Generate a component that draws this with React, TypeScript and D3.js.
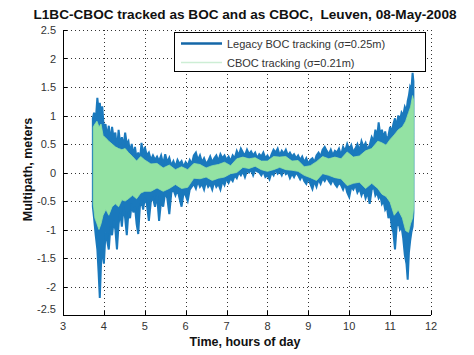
import React from "react";
import * as d3 from "d3";

const title = "L1BC-CBOC tracked as BOC and as CBOC,\u00a0 Leuven, 08-May-2008";
const xLabel = "Time, hours of day";
const yLabel = "Multipath, meters";
const xTicks = [3, 4, 5, 6, 7, 8, 9, 10, 11, 12];
const yTicks = [-2.5, -2, -1.5, -1, -0.5, 0, 0.5, 1, 1.5, 2, 2.5];
const legendLabels = ["Legacy BOC tracking (\u03c3=0.25m)", "CBOC tracking (\u03c3=0.21m)"];

// Legacy BOC tracking: envelope (max / min) per time sample, hours
const bocT = [3.73, 3.76, 3.8, 3.84, 3.87, 3.9, 3.93, 3.96, 4.0, 4.04, 4.08, 4.12, 4.16, 4.2, 4.24, 4.28, 4.32, 4.36, 4.4, 4.44, 4.48, 4.52, 4.56, 4.6, 4.64, 4.68, 4.72, 4.76, 4.8, 4.84, 4.88, 4.92, 4.96, 5.0, 5.05, 5.1, 5.15, 5.2, 5.25, 5.3, 5.35, 5.4, 5.45, 5.5, 5.55, 5.6, 5.65, 5.7, 5.75, 5.8, 5.85, 5.9, 5.95, 6.0, 6.05, 6.1, 6.15, 6.2, 6.25, 6.3, 6.35, 6.4, 6.45, 6.5, 6.55, 6.6, 6.65, 6.7, 6.75, 6.8, 6.85, 6.9, 6.95, 7.0, 7.05, 7.1, 7.15, 7.2, 7.25, 7.3, 7.35, 7.4, 7.45, 7.5, 7.55, 7.6, 7.65, 7.7, 7.75, 7.8, 7.85, 7.9, 7.95, 8.0, 8.05, 8.1, 8.15, 8.2, 8.25, 8.3, 8.35, 8.4, 8.45, 8.5, 8.55, 8.6, 8.65, 8.7, 8.75, 8.8, 8.85, 8.9, 8.95, 9.0, 9.05, 9.1, 9.15, 9.2, 9.25, 9.3, 9.35, 9.4, 9.45, 9.5, 9.55, 9.6, 9.65, 9.7, 9.75, 9.8, 9.85, 9.9, 9.95, 10.0, 10.05, 10.1, 10.15, 10.2, 10.25, 10.3, 10.35, 10.4, 10.45, 10.5, 10.55, 10.6, 10.64, 10.68, 10.72, 10.76, 10.8, 10.84, 10.88, 10.92, 10.96, 11.0, 11.04, 11.08, 11.12, 11.16, 11.2, 11.24, 11.28, 11.32, 11.36, 11.4, 11.43, 11.46, 11.49, 11.52, 11.55, 11.57];
const bocHi = [0.95, 1.05, 0.9, 1.31, 1.1, 1.22, 1.0, 1.16, 0.75, 0.85, 0.62, 0.82, 0.55, 0.8, 0.6, 0.7, 0.4, 0.75, 0.5, 0.62, 0.45, 0.7, 0.5, 0.55, 0.35, 0.5, 0.3, 0.45, 0.25, 0.35, 0.2, 0.52, 0.3, 0.45, 0.3, 0.35, 0.22, 0.3, 0.22, 0.28, 0.2, 0.3, 0.15, 0.32, 0.18, 0.26, 0.12, 0.2, 0.1, 0.22, 0.15, 0.2, 0.1, 0.18, 0.12, 0.22, 0.15, 0.3, 0.35, 0.22, 0.3, 0.18, 0.25, 0.15, 0.2, 0.28, 0.18, 0.25, 0.3, 0.2, 0.32, 0.25, 0.3, 0.22, 0.28, 0.2, 0.3, 0.25, 0.38, 0.3, 0.42, 0.35, 0.3, 0.4, 0.32, 0.37, 0.3, 0.35, 0.25, 0.32, 0.28, 0.35, 0.25, 0.3, 0.22, 0.32, 0.4, 0.35, 0.42, 0.3, 0.38, 0.33, 0.4, 0.3, 0.35, 0.28, 0.32, 0.25, 0.3, 0.22, 0.28, 0.18, 0.25, 0.15, 0.22, 0.25, 0.18, 0.3, 0.35, 0.28, 0.4, 0.45, 0.38, 0.32, 0.4, 0.3, 0.38, 0.35, 0.42, 0.3, 0.45, 0.38, 0.5, 0.4, 0.48, 0.35, 0.42, 0.5, 0.38, 0.55, 0.45, 0.52, 0.4, 0.48, 0.62, 0.55, 0.75, 0.6, 0.88, 0.65, 0.75, 0.6, 0.72, 0.55, 0.65, 0.8, 0.7, 0.85, 0.95, 0.8, 1.0, 0.9, 1.05, 1.0, 1.15, 1.08, 1.25, 1.35, 1.5, 1.45, 1.75, 1.6];
const bocLo = [-0.6, -0.8, -1.1, -1.35, -1.75, -2.2, -1.6, -1.3, -1.6, -1.05, -1.2, -1.35, -0.95, -1.1, -0.85, -1.0, -1.35, -0.9, -0.7, -0.95, -0.6, -0.8, -1.1, -0.7, -0.8, -0.55, -0.7, -0.6, -0.9, -1.08, -0.6, -0.5, -0.65, -0.45, -0.55, -0.85, -0.5, -0.45, -0.6, -0.4, -0.85, -0.5, -0.6, -0.35, -0.45, -0.73, -0.35, -0.3, -0.4, -0.3, -0.45, -0.6, -0.35, -0.4, -0.5, -0.3, -0.25, -0.2, -0.28, -0.15, -0.25, -0.2, -0.3, -0.15, -0.25, -0.2, -0.3, -0.15, -0.25, -0.2, -0.3, -0.15, -0.22, -0.1, -0.18, -0.1, -0.15, -0.05, -0.1, 0.0, -0.05, 0.02, -0.08, 0.03, 0.0, 0.05, -0.05, 0.05, 0.02, 0.0, -0.05, 0.02, -0.08, -0.05, -0.12, 0.0, -0.05, 0.05, -0.02, 0.02, -0.05, 0.05, -0.03, 0.0, -0.1, -0.02, -0.08, 0.0, -0.05, -0.12, -0.05, -0.15, -0.2, -0.1, -0.2, -0.29, -0.15, -0.25, -0.12, -0.2, -0.1, -0.15, -0.08, -0.15, -0.2, -0.12, -0.2, -0.25, -0.18, -0.22, -0.3, -0.2, -0.35, -0.43, -0.25, -0.3, -0.22, -0.35, -0.28, -0.4, -0.3, -0.45, -0.35, -0.55, -0.3, -0.25, -0.4, -0.35, -0.45, -0.4, -0.55, -0.5, -0.65, -0.6, -0.8, -0.7, -0.95, -1.05, -1.35, -0.95, -0.85, -1.0, -0.95, -1.15, -1.45, -1.6, -1.88, -1.4, -1.2, -1.05, -0.95, -0.7];

// CBOC tracking: envelope (max / min) per time sample, hours
const cbocT = [3.74, 3.78, 3.83, 3.88, 3.93, 3.98, 4.05, 4.12, 4.2, 4.28, 4.36, 4.44, 4.52, 4.6, 4.7, 4.8, 4.9, 5.0, 5.15, 5.3, 5.45, 5.6, 5.75, 5.9, 6.05, 6.2, 6.35, 6.5, 6.65, 6.8, 6.95, 7.1, 7.25, 7.4, 7.55, 7.7, 7.85, 8.0, 8.15, 8.3, 8.45, 8.6, 8.75, 8.9, 9.05, 9.2, 9.35, 9.5, 9.65, 9.8, 9.95, 10.1, 10.25, 10.4, 10.55, 10.7, 10.8, 10.9, 11.0, 11.1, 11.2, 11.3, 11.38, 11.45, 11.5, 11.55, 11.58];
const cbocHi = [0.8, 0.85, 0.9, 0.8, 0.85, 0.65, 0.6, 0.55, 0.5, 0.45, 0.42, 0.4, 0.42, 0.35, 0.28, 0.2, 0.28, 0.22, 0.15, 0.16, 0.08, 0.13, 0.05, 0.1, 0.05, 0.16, 0.14, 0.08, 0.12, 0.14, 0.18, 0.12, 0.24, 0.27, 0.24, 0.26, 0.2, 0.2, 0.28, 0.27, 0.28, 0.2, 0.21, 0.1, 0.12, 0.19, 0.28, 0.24, 0.27, 0.24, 0.36, 0.27, 0.29, 0.38, 0.42, 0.55, 0.52, 0.48, 0.58, 0.66, 0.75, 0.8, 0.9, 1.05, 1.15, 1.35, 1.25];
const cbocLo = [-0.55, -0.8, -0.9, -1.0, -0.9, -0.75, -0.65, -0.75, -0.6, -0.55, -0.6, -0.48, -0.5, -0.46, -0.4, -0.46, -0.36, -0.33, -0.33, -0.27, -0.33, -0.28, -0.21, -0.28, -0.26, -0.1, -0.11, -0.08, -0.14, -0.1, -0.08, -0.02, 0.0, 0.09, 0.07, 0.11, 0.05, 0.02, 0.05, 0.09, 0.05, 0.04, 0.02, -0.05, -0.09, -0.14, -0.02, -0.05, -0.09, -0.11, -0.23, -0.19, -0.17, -0.28, -0.19, -0.28, -0.38, -0.42, -0.52, -0.75, -0.66, -0.8, -1.02, -1.05, -0.9, -0.8, -0.58];

const W = 474;
const H = 355;
const BLUE = "#1a79bd";
const GREEN = "#93e2a3";
const FONT = "'Liberation Sans', Arial, sans-serif";

export default function App() {
  const x = d3.scaleLinear().domain([3, 12]).range([63, 431]);
  const y = d3.scaleLinear().domain([-2.5, 2.5]).range([315, 30]);

  const bocRows = bocT.map((t, i) => ({ t, hi: bocHi[i], lo: bocLo[i] }));
  const cbocRows = cbocT.map((t, i) => ({ t, hi: cbocHi[i], lo: cbocLo[i] }));

  const area = d3
    .area<{ t: number; hi: number; lo: number }>()
    .x((d) => x(d.t))
    .y0((d) => y(d.lo))
    .y1((d) => y(d.hi))
    .curve(d3.curveLinear);

  const [x0, x1] = x.range();
  const [yb, yt] = y.range();

  return (
    <svg width={W} height={H} style={{ position: "absolute", left: 0, top: 0, background: "#fff" }}>
      <rect x={0} y={0} width={W} height={H} fill="#fff" />
      {/* grid */}
      <g stroke="#333" strokeWidth={1} strokeDasharray="1,3">
        {xTicks.slice(1).map((t) => (
          <line key={"gx" + t} x1={Math.round(x(t)) + 0.5} x2={Math.round(x(t)) + 0.5} y1={yb} y2={yt} />
        ))}
        {yTicks.slice(1).map((v) => (
          <line key={"gy" + v} x1={x0} x2={x1} y1={Math.round(y(v)) + 0.5} y2={Math.round(y(v)) + 0.5} />
        ))}
      </g>
      {/* data */}
      <path d={area(bocRows) || ""} fill={BLUE} stroke={BLUE} strokeWidth={2} strokeLinejoin="miter" />
      <path d={area(cbocRows) || ""} fill={GREEN} stroke={GREEN} strokeWidth={0.8} />
      {/* axes */}
      <g stroke="#000" strokeWidth={1}>
        <line x1={x0 + 0.5} x2={x0 + 0.5} y1={yt} y2={yb + 0.5} />
        <line x1={x0} x2={x1} y1={yb + 0.5} y2={yb + 0.5} />
        {xTicks.map((t) => (
          <line key={"tx" + t} x1={Math.round(x(t)) + 0.5} x2={Math.round(x(t)) + 0.5} y1={yb} y2={yb - 4} />
        ))}
        {yTicks.map((v) => (
          <line key={"ty" + v} x1={x0} x2={x0 + 4} y1={Math.round(y(v)) + 0.5} y2={Math.round(y(v)) + 0.5} />
        ))}
      </g>
      {/* tick labels */}
      <g fontFamily={FONT} fontSize={11} fill="#333">
        {xTicks.map((t) => (
          <text key={"lx" + t} x={x(t)} y={330} textAnchor="middle">
            {t}
          </text>
        ))}
        {yTicks.map((v) => (
          <text key={"ly" + v} x={56} y={y(v) + (v === -2.5 ? -2 : 4)} textAnchor="end">
            {v}
          </text>
        ))}
      </g>
      {/* titles */}
      <text x={245} y={19} textAnchor="middle" fontFamily={FONT} fontSize={13.6} fontWeight="bold" fill="#111">
        {title}
      </text>
      <text x={245} y={346} textAnchor="middle" fontFamily={FONT} fontSize={12.5} fontWeight="bold" fill="#111">
        {xLabel}
      </text>
      <text
        transform={`translate(32,${y(0) - 3}) rotate(-90)`}
        textAnchor="middle"
        fontFamily={FONT}
        fontSize={12.5}
        fontWeight="bold"
        fill="#111"
      >
        {yLabel}
      </text>
      {/* legend */}
      <rect x={174.5} y={32.5} width={251} height={39} fill="#fff" stroke="#000" strokeWidth={1} />
      <line x1={181} x2={222} y1={43.5} y2={43.5} stroke="#1467a8" strokeWidth={2.5} />
      <line x1={181} x2={222} y1={62.5} y2={62.5} stroke="#cdeed5" strokeWidth={1.5} />
      <g fontFamily={FONT} fontSize={11} fill="#333">
        <text x={227} y={47.5}>{legendLabels[0]}</text>
        <text x={227} y={66.5}>{legendLabels[1]}</text>
      </g>
    </svg>
  );
}
